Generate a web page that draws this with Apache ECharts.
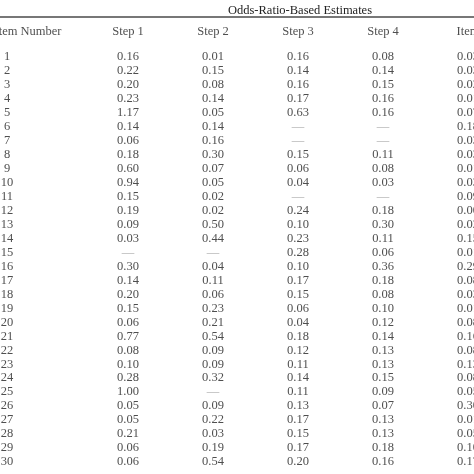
<!DOCTYPE html>
<html><head><meta charset="utf-8">
<script src="https://cdn.jsdelivr.net/npm/echarts@6/dist/echarts.min.js"></script>
<style>html,body{margin:0;padding:0;background:#fff}#c{width:474px;height:474px}</style>
</head><body><div id="c"></div>
<script>
const title = 'Odds-Ratio-Based Estimates';
const headers = ['Item Number','Step 1','Step 2','Step 3','Step 4','Item'];
const items = [1,2,3,4,5,6,7,8,9,10,11,12,13,14,15,16,17,18,19,20,21,22,23,24,25,26,27,28,29,30];
const step1 = [0.16,0.22,0.20,0.23,1.17,0.14,0.06,0.18,0.60,0.94,0.15,0.19,0.09,0.03,null,0.30,0.14,0.20,0.15,0.06,0.77,0.08,0.10,0.28,1.00,0.05,0.05,0.21,0.06,0.06];
const step2 = [0.01,0.15,0.08,0.14,0.05,0.14,0.16,0.30,0.07,0.05,0.02,0.02,0.50,0.44,null,0.04,0.11,0.06,0.23,0.21,0.54,0.09,0.09,0.32,null,0.09,0.22,0.03,0.19,0.54];
const step3 = [0.16,0.14,0.16,0.17,0.63,null,null,0.15,0.06,0.04,null,0.24,0.10,0.23,0.28,0.10,0.17,0.15,0.06,0.04,0.18,0.12,0.11,0.14,0.11,0.13,0.17,0.15,0.17,0.20];
const step4 = [0.08,0.14,0.15,0.16,0.16,null,null,0.11,0.08,0.03,null,0.18,0.30,0.11,0.06,0.36,0.18,0.08,0.10,0.12,0.14,0.13,0.13,0.15,0.09,0.07,0.13,0.13,0.18,0.16];
const itemCol = [0.03,0.03,0.02,0.01,0.07,0.18,0.03,0.03,0.01,0.03,0.09,0.00,0.02,0.15,0.01,0.29,0.08,0.03,0.01,0.08,0.16,0.08,0.13,0.08,0.05,0.30,0.01,0.05,0.10,0.17];

const fmt = v => v === null ? '—' : v.toFixed(2);
const cols = [items.map(String), step1.map(fmt), step2.map(fmt), step3.map(fmt), step4.map(fmt), itemCol.map(fmt)];
const font = {fontFamily:'Liberation Serif', fontSize:12.5, color:'#222'};

const series = cols.map((col, ci) => ({
  type:'scatter', symbolSize:0, silent:true,
  data: col.map((t, ri) => {
    const d = {value:[ci, items[ri]], txt:t};
    if (t === '—') d.label = {color:'#999'};
    return d;
  }),
  label:{show:true, position:'inside', offset:[ci===0?-36:0, 0], formatter:p=>p.data.txt, ...font}
}));
series.push({
  type:'scatter', symbolSize:0, silent:true,
  data: headers.map((h, ci) => ({value:[ci, items[0]], txt:h, label:{offset:[ci===0?-15:0, -25]}})),
  label:{show:true, position:'inside', formatter:p=>p.data.txt, ...font}
});

const chart = echarts.init(document.getElementById('c'));
chart.setOption({
  animation:false,
  title:{text:title, left:295, top:-1, textAlign:'center', textStyle:{fontFamily:'Liberation Serif', fontSize:12.5, fontWeight:'normal', color:'#222'}},
  grid:{left:0, right:0, top:57, height:405},
  xAxis:{type:'value', min:-0.506, max:5.07, show:false},
  yAxis:{type:'value', min:1, max:30, inverse:true, show:false},
  graphic:[{type:'rect', shape:{x:0, y:16, width:474, height:2}, style:{fill:'#777'}}],
  series
});
</script></body></html>
